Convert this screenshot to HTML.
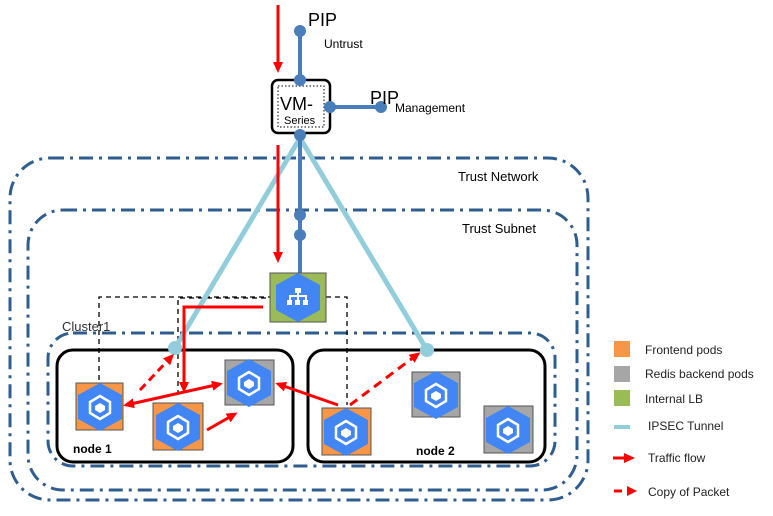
<!DOCTYPE html>
<html><head><meta charset="utf-8"><style>body{margin:0;background:#fff}svg{display:block;font-family:"Liberation Sans",sans-serif}</style></head><body>
<svg width="773" height="516" viewBox="0 0 773 516" xmlns="http://www.w3.org/2000/svg">
<defs>
<marker id="ar" markerWidth="11" markerHeight="10" refX="8" refY="5" orient="auto" markerUnits="userSpaceOnUse"><path d="M0,0 L11,5 L0,10 z" fill="#f00"/></marker>
<marker id="al" markerWidth="11" markerHeight="10" refX="3" refY="5" orient="auto" markerUnits="userSpaceOnUse"><path d="M11,0 L0,5 L11,10 z" fill="#f00"/></marker>
<g id="pod"><polygon points="24,0 46,12 46,36 24,48 2,36 2,12" fill="#4285f4"/><polygon points="24,13 34,19 34,30 24,36 14,30 14,19" fill="none" stroke="#fff" stroke-width="2.5"/><polygon points="24,20 29,23 29,27 24,30 19,27 19,23" fill="#fff"/></g>
</defs>
<g fill="none" stroke="#2f5d8f" stroke-width="3" stroke-dasharray="14,6,3,6">
<rect x="10" y="158" width="578" height="342" rx="40"/>
<rect x="28" y="210" width="549" height="280" rx="35"/>
<rect x="48" y="333" width="507" height="133" rx="25"/>
</g>
<text x="458" y="181" font-size="13">Trust Network</text>
<text x="462" y="233" font-size="13">Trust Subnet</text>
<text x="62" y="331" font-size="13" fill="#333">Cluster1</text>
<rect x="57" y="350" width="236" height="112" rx="16" fill="none" stroke="#000" stroke-width="3"/>
<rect x="308" y="350" width="237" height="112" rx="16" fill="none" stroke="#000" stroke-width="3"/>
<text x="73" y="453" font-size="12" font-weight="bold">node 1</text>
<text x="416" y="455" font-size="12" font-weight="bold">node 2</text>
<g fill="none" stroke="#000" stroke-dasharray="5,4" stroke-width="1.3">
<path d="M99,380 V297 H270"/><path d="M178,395 V298 H270"/><path d="M326,297 H347 V405"/>
</g>
<g stroke="#92cddc" stroke-width="5"><line x1="300" y1="138" x2="175" y2="348"/><line x1="300" y1="138" x2="427" y2="350"/></g>
<circle cx="175" cy="348" r="7" fill="#92cddc"/><circle cx="427" cy="350" r="7" fill="#92cddc"/>
<g stroke="#4a7ebb" stroke-width="4"><line x1="300" y1="31" x2="300" y2="80"/><line x1="330" y1="107" x2="381" y2="107"/><line x1="300" y1="135" x2="300" y2="275"/></g>
<g fill="#4a7ebb"><circle cx="300" cy="31" r="6"/><circle cx="381" cy="107" r="6"/><circle cx="300" cy="215" r="6"/><circle cx="300" cy="235" r="6"/></g>
<rect x="272" y="80" width="58" height="53" rx="6" fill="#fff" stroke="#000" stroke-width="2.5"/>
<rect x="278" y="86" width="46" height="41" fill="none" stroke="#000" stroke-dasharray="1.5,2"/>
<text x="280" y="110" font-size="18">VM-</text><text x="284" y="124" font-size="11">Series</text>
<circle cx="300" cy="80" r="6" fill="#4a7ebb"/><circle cx="330" cy="107" r="6" fill="#4a7ebb"/><circle cx="300" cy="135" r="6" fill="#4a7ebb"/>
<text x="308" y="26" font-size="18">PIP</text><text x="324" y="48" font-size="12">Untrust</text>
<text x="370" y="104" font-size="18">PIP</text><text x="395" y="112" font-size="12">Management</text>
<rect x="270" y="273" width="56" height="49" fill="#9bbb59" stroke="#555"/>
<polygon points="298,273 320,285 320,310 298,322 276,310 276,285" fill="#4285f4"/>
<g fill="#fff"><rect x="295" y="288" width="6" height="5"/><rect x="290" y="295" width="16" height="2"/><rect x="289" y="295" width="2" height="5"/><rect x="297" y="293" width="2" height="7"/><rect x="305" y="295" width="2" height="5"/><rect x="287" y="300" width="5" height="5"/><rect x="295" y="300" width="5" height="5"/><rect x="303" y="300" width="5" height="5"/></g>
<g stroke="#555"><rect x="76" y="383" width="47" height="47" fill="#f79646"/><rect x="153" y="403" width="50" height="47" fill="#f79646"/><rect x="225" y="360" width="49" height="45" fill="#a6a6a6"/><rect x="322" y="408" width="49" height="47" fill="#f79646"/><rect x="412" y="372" width="48" height="45" fill="#a6a6a6"/><rect x="484" y="406" width="49" height="47" fill="#a6a6a6"/></g>
<use href="#pod" x="76" y="383"/><use href="#pod" x="154" y="403"/><use href="#pod" x="225" y="359"/><use href="#pod" x="322" y="408"/><use href="#pod" x="412" y="371"/><use href="#pod" x="484" y="406"/>
<g stroke="#f00" stroke-width="3" fill="none">
<line x1="278" y1="5" x2="278" y2="70" marker-end="url(#ar)"/>
<line x1="278" y1="145" x2="278" y2="260" marker-end="url(#ar)"/>
<path d="M263,307 H184 V390" marker-end="url(#ar)"/>
<line x1="126" y1="405" x2="220" y2="384" marker-start="url(#al)" marker-end="url(#ar)"/>
<line x1="338" y1="405" x2="278" y2="384" marker-end="url(#ar)"/>
<line x1="207" y1="430" x2="235" y2="414" marker-end="url(#ar)"/>
<line x1="140" y1="390" x2="172" y2="356" stroke-dasharray="8,5" marker-end="url(#ar)"/>
<line x1="350" y1="405" x2="418" y2="354" stroke-dasharray="9,6" marker-end="url(#ar)"/>
<line x1="613" y1="458" x2="632" y2="458" marker-end="url(#ar)"/>
<line x1="614" y1="491" x2="622" y2="491"/>
</g>
<path d="M627,486 L637,491 L627,496 z" fill="#f00"/>
<rect x="614" y="341" width="16" height="16" fill="#f79646"/><rect x="614" y="366" width="16" height="16" fill="#a6a6a6"/><rect x="614" y="390" width="16" height="16" fill="#9bbb59"/><rect x="614" y="425" width="16" height="4" fill="#92cddc"/>
<g font-size="12" fill="#222"><text x="645" y="354">Frontend pods</text><text x="645" y="378">Redis backend pods</text><text x="645" y="403">Internal  LB</text><text x="648" y="430">IPSEC Tunnel</text><text x="648" y="462">Traffic flow</text><text x="648" y="496">Copy of Packet</text></g>
</svg>
</body></html>
